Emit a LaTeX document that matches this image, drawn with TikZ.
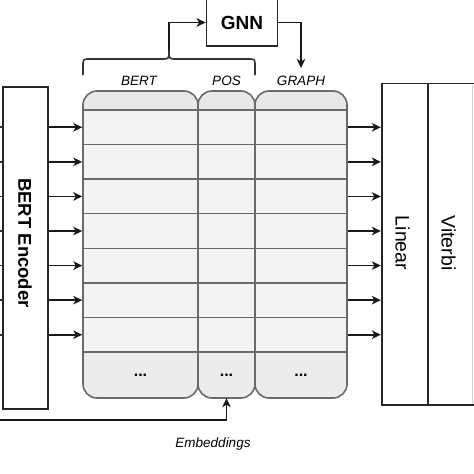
\documentclass[tikz,border=0pt]{standalone}
\usepackage{fontspec}
\setmainfont{Liberation Sans}
\usetikzlibrary{arrows.meta,calc}
\definecolor{gridc}{HTML}{6A6A6A}
\definecolor{rowc}{HTML}{F3F3F3}
\definecolor{headc}{HTML}{E8E8E8}
\definecolor{lastc}{HTML}{ECECEC}
\definecolor{edgec}{HTML}{D0D0D0}
\tikzset{
  arr/.style={draw=black!90, line width=1.6pt, -{Stealth[length=9pt,width=8.5pt,inset=2.5pt]}},
  plainln/.style={draw=black!80, line width=1.6pt},
  blockbox/.style={draw=black!85, line width=1.7pt, fill=white, inner sep=0pt},
  cellbox/.style={draw=gridc, line width=1.5pt, fill=rowc, inner sep=0pt, minimum height=34.57pt},
  lastcell/.style={inner sep=0pt, minimum height=46pt, font=\fontsize{16}{18}\selectfont\bfseries},
  collab/.style={font=\fontsize{13.5}{16}\selectfont\itshape, inner sep=0pt},
  bigtxt/.style={font=\fontsize{19.5}{22}\selectfont, inner sep=0pt},
  outline/.style={draw=gridc, line width=1.6pt, rounded corners=14pt},
}
\begin{document}
\begin{tikzpicture}[x=1pt,y=-1pt]
\useasboundingbox (0,0) rectangle (474,474);

% column backgrounds
\foreach \xa/\xb in {83/198, 198/255, 255/347}{
  \begin{scope}
    \clip[rounded corners=14pt] (\xa,91) rectangle (\xb,398);
    \fill[rowc] (\xa,91) rectangle (\xb,398);
    \fill[headc] (\xa,91) rectangle (\xb,110);
    \fill[lastc] (\xa,352) rectangle (\xb,398);
  \end{scope}
}
% cells
\foreach \nm/\cx/\w in {B/140.5/115, P/226.5/57, G/301/92}{
  \foreach \i in {1,...,7}{
    \node[cellbox, minimum width=\w pt] (\nm\i) at (\cx,{110+34.57*(\i-0.5)}) {};
  }
  \node[lastcell, minimum width=\w pt] (\nm8) at (\cx,375) {...};
}
% column outlines
\foreach \xa/\xb in {83/198, 198/255, 255/347}{
  \draw[outline] (\xa,91) rectangle (\xb,398);
}

% column labels
\node[collab] (lbert) at (139,81) {BERT};
\node[collab] (lpos) at (226.5,81) {POS};
\node[collab] (lgraph) at (301,81) {GRAPH};

% brace
\coordinate (btip) at (169,50);
\draw[plainln] (83,75) -- (83,66) .. controls (83,59) .. (90,59) -- (162,59)
  .. controls (169,59) .. (btip) .. controls (169,59) .. (176,59) -- (248,59)
  .. controls (255,59) .. (255,66) -- (255,75);

% GNN
\node[blockbox, minimum width=71pt, minimum height=47pt] (gnn) at (242,22.5) {};
\node[bigtxt, font=\fontsize{19}{22}\selectfont\bfseries] (gnnt) at (gnn.center) {GNN};
\draw[arr] (btip) |- (gnn.west);
\coordinate (gin) at (301,68);
\draw[arr] (gnn.east) -| (gin);

% BERT Encoder
\node[blockbox, minimum width=45pt, minimum height=322pt] (enc) at (25.5,248) {};
\node[bigtxt, font=\fontsize{18.5}{22}\selectfont\bfseries, rotate=-90] (enct) at (25,243) {BERT Encoder};

% Linear and Viterbi
\node[blockbox, minimum width=46pt, minimum height=321.7pt] (lin) at (404.7,244.2) {};
\node[bigtxt, rotate=-90] (lint) at (402.5,243) {Linear};
\node[blockbox, minimum width=50pt, minimum height=321.7pt] (vit) at (452.7,244.2) {};
\node[bigtxt, rotate=-90] (vitt) at (448.5,243) {Viterbi};
\draw[edgec, line width=1.8pt] (472.5,85) -- (472.5,404);

% input stubs and arrows
\foreach \i in {1,...,7}{
  \coordinate (s\i) at (0,{110+34.57*(\i-0.5)});
  \draw[plainln] (s\i) -- (enc.west |- s\i);
  \draw[arr] (enc.east |- B\i.west) -- (B\i.west);
  \draw[arr] (G\i.east) -- (lin.west |- G\i.east);
}

% Embeddings
\coordinate (emb) at (0,420);
\draw[arr] (emb) -| (P8.south);
\node[collab] (embt) at (213,444) {Embeddings};
\end{tikzpicture}
\end{document}
